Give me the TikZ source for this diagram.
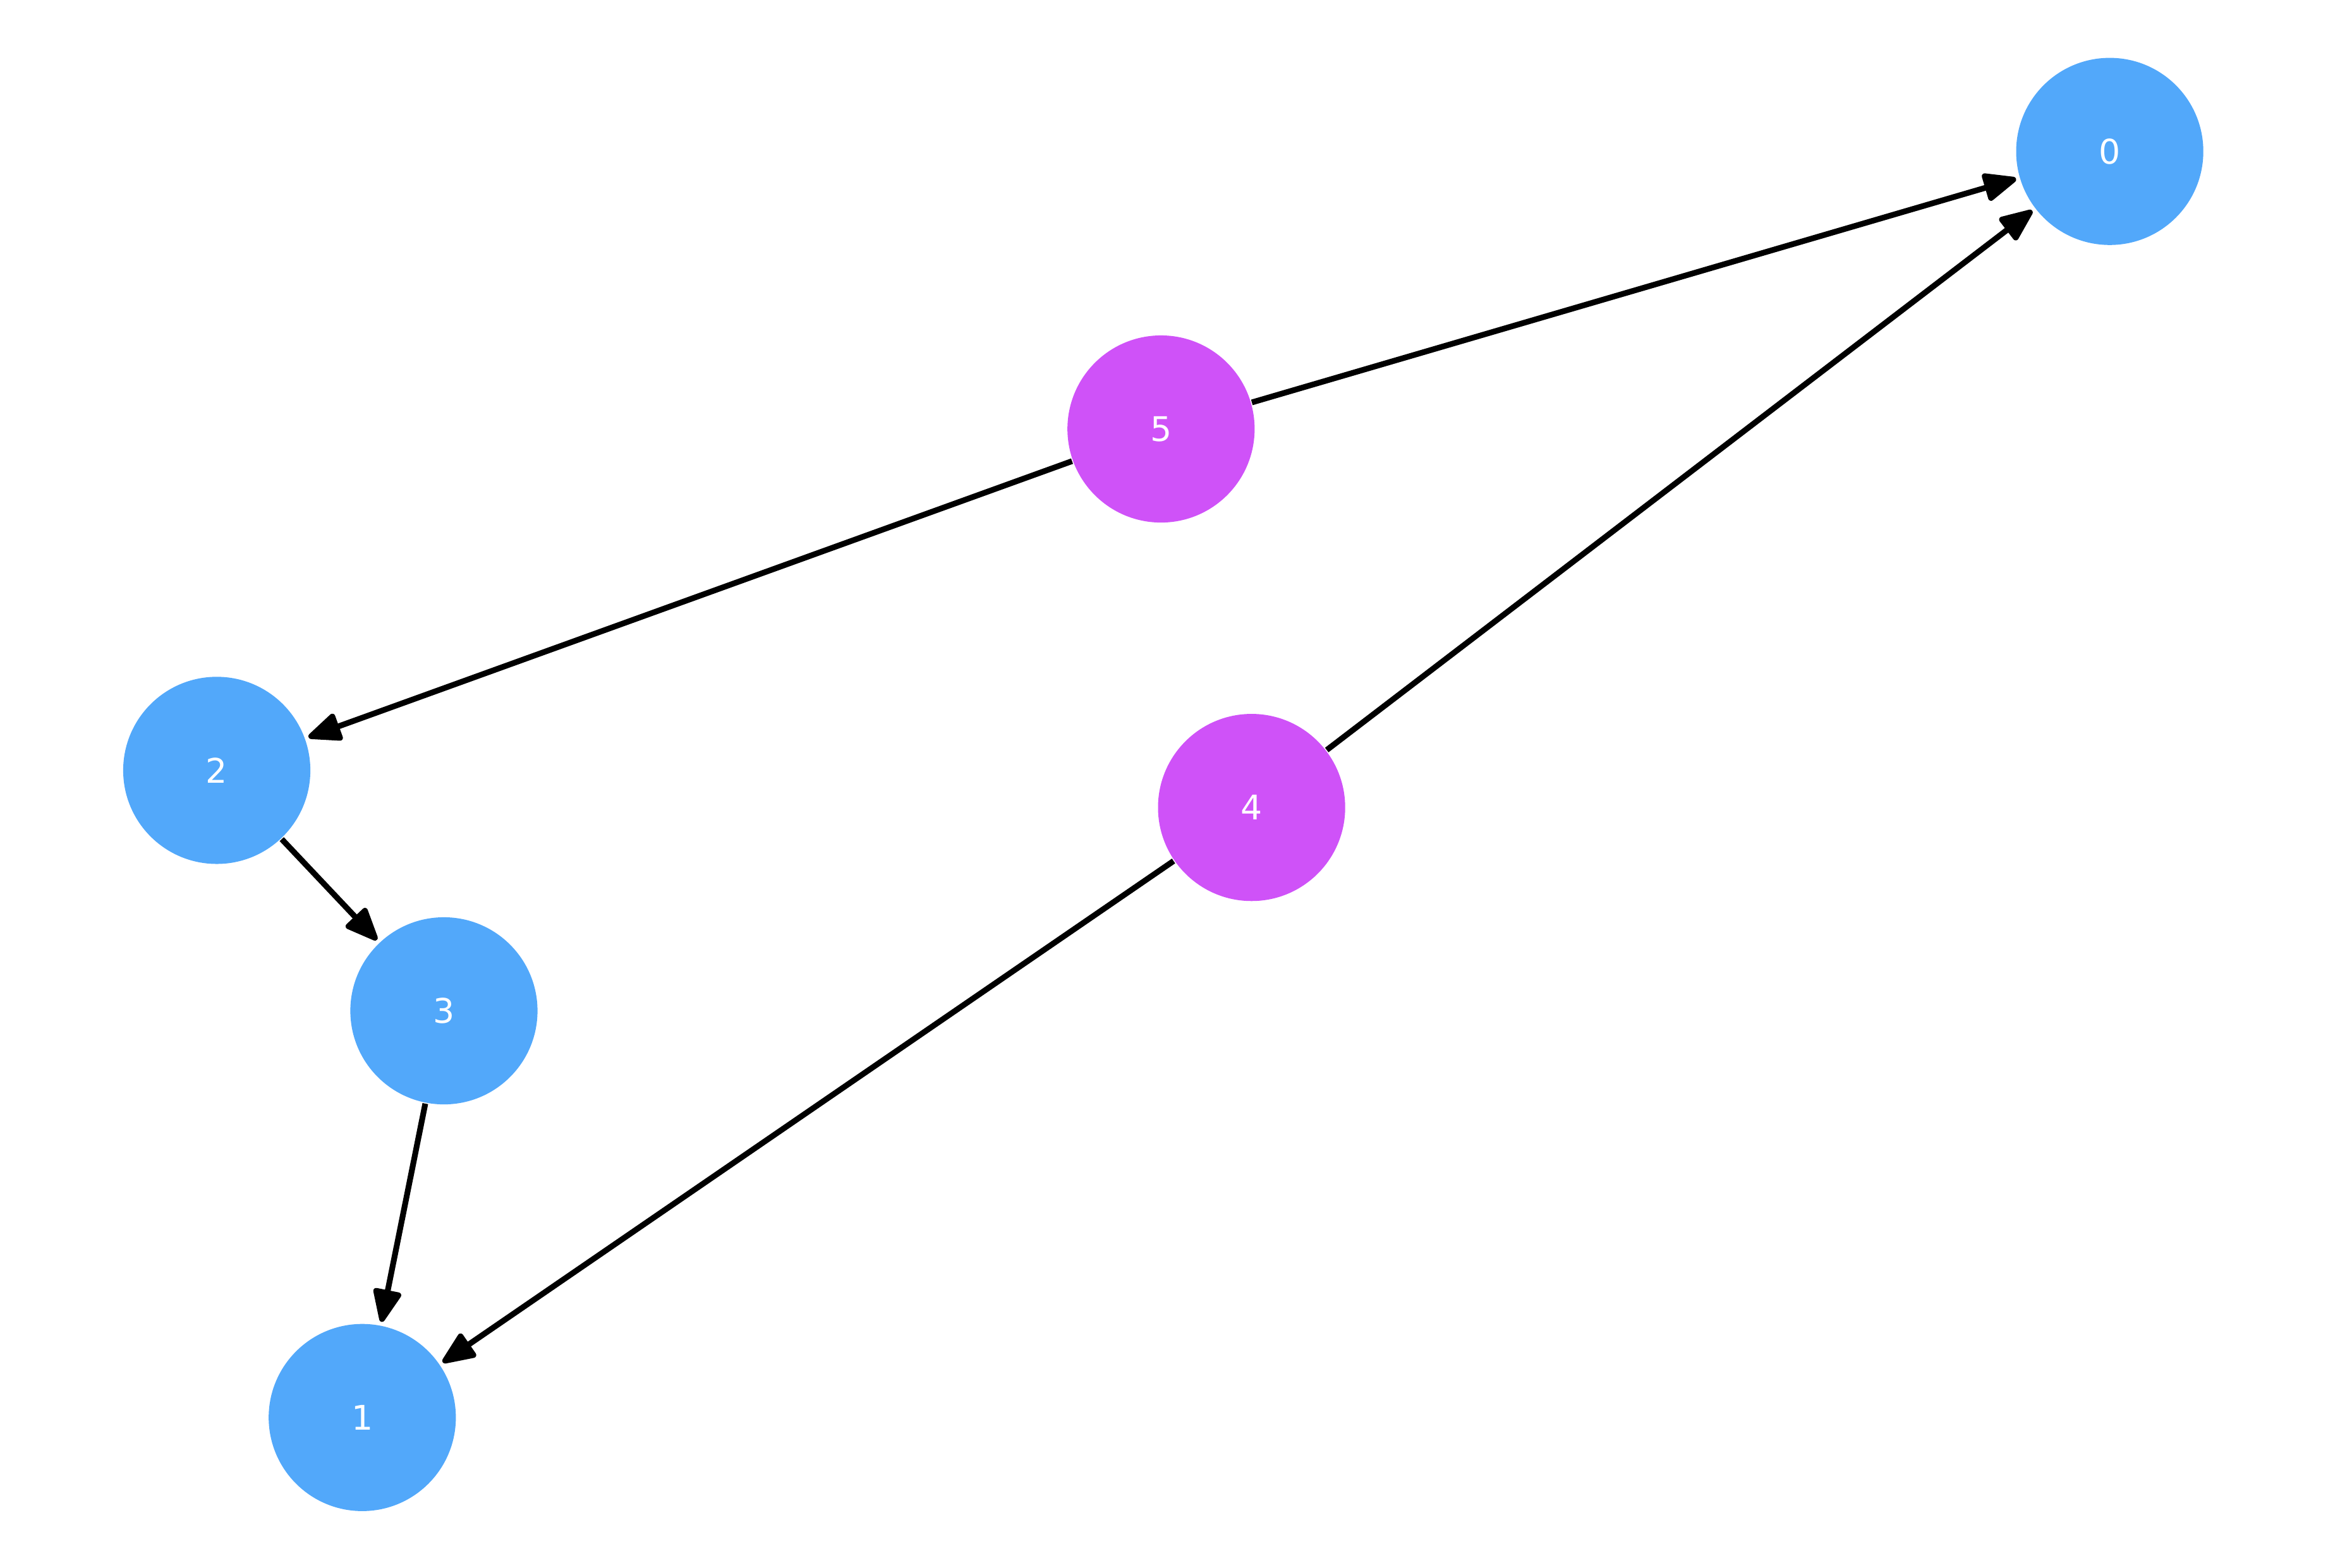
\documentclass[tikz,border=0pt]{standalone}
\usepackage{fontspec}
\setmainfont{DejaVu Sans}
\usetikzlibrary{arrows.meta}
\definecolor{nblue}{HTML}{52A8FA}
\definecolor{npurp}{HTML}{CF52F8}
\tikzset{
 vtx/.style={circle,minimum size=1.26cm,inner sep=0pt,text=white,font=\fontsize{6.5pt}{7pt}\selectfont},
 bl/.style={vtx,fill=nblue},
 pu/.style={vtx,fill=npurp},
 edge/.style={draw=black,line width=1.1pt,-{Triangle[length=0.25cm,width=0.2cm,round]},shorten >=0.02cm}
}
\begin{document}
\begin{tikzpicture}[x=0.01cm,y=-0.01cm]
\useasboundingbox (0,0) rectangle (1568,1056);
\node[bl] (n0) at (1421,102) {0};
\node[pu] (n5) at (782,289) {5};
\node[bl] (n2) at (146,519) {2};
\node[pu] (n4) at (843,544) {4};
\node[bl] (n3) at (299,681) {3};
\node[bl] (n1) at (244,955) {1};
\draw[edge] (n5) -- (n0);
\draw[edge] (n5) -- (n2);
\draw[edge] (n4) -- (n0);
\draw[edge] (n4) -- (n1);
\draw[edge] (n2) -- (n3);
\draw[edge] (n3) -- (n1);
\end{tikzpicture}
\end{document}
